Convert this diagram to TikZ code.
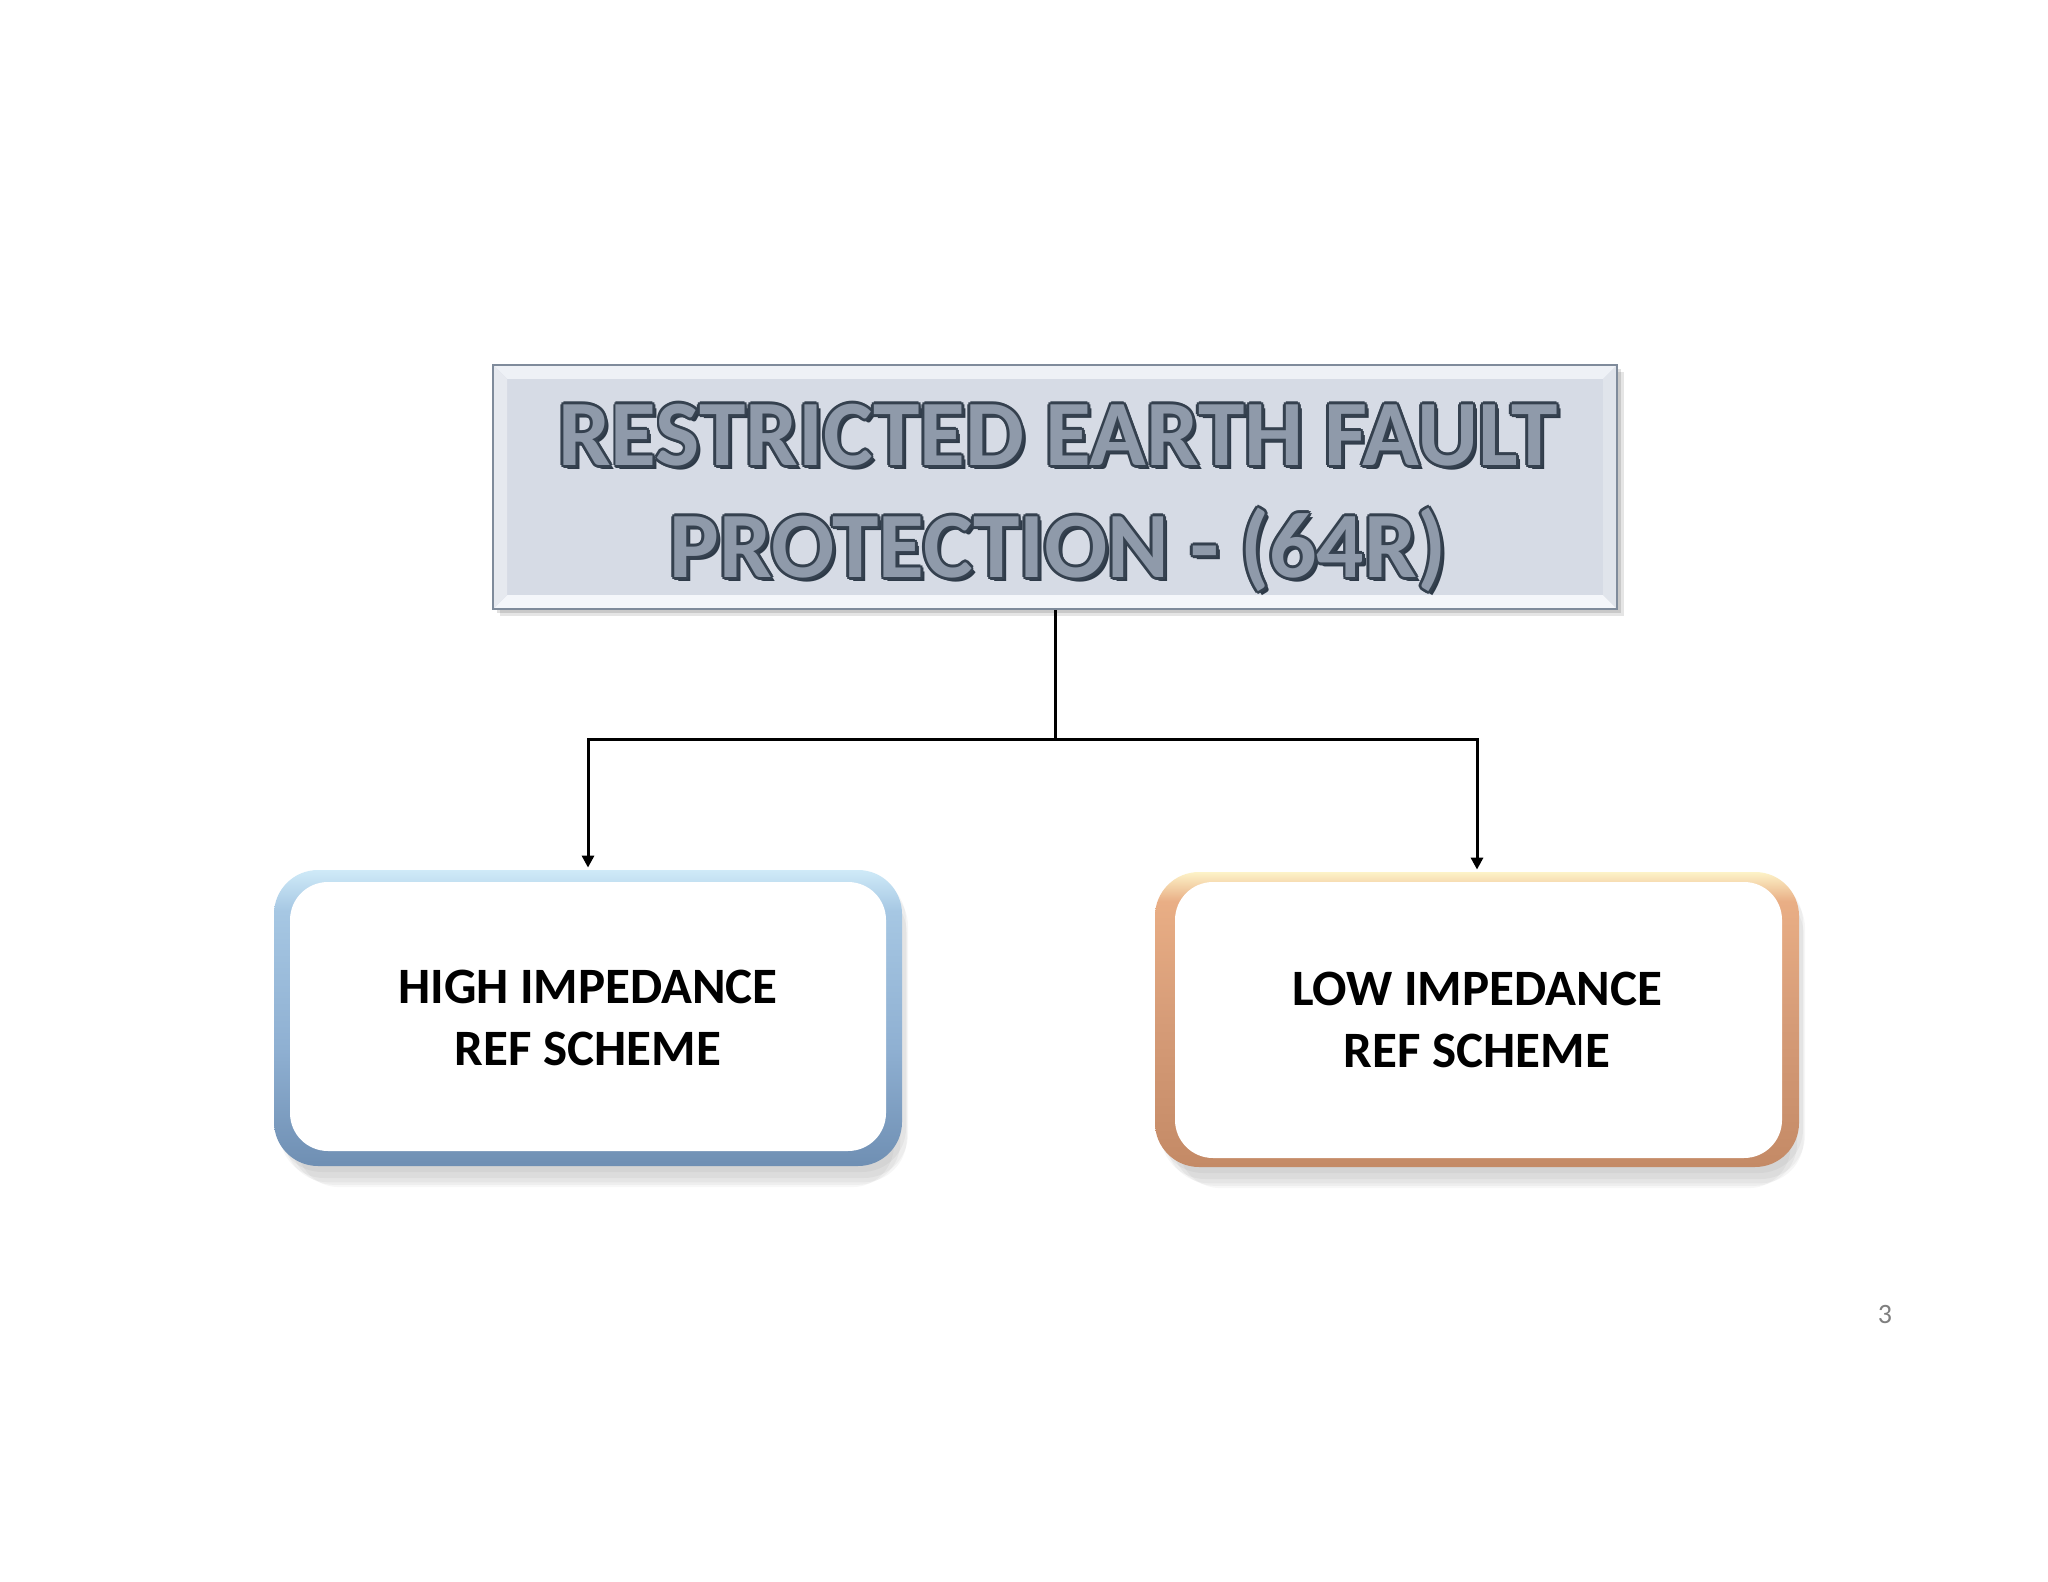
\documentclass[tikz,border=0pt]{standalone}
\usepackage{fontspec}
\setmainfont{Carlito}
\usetikzlibrary{shadows,arrows.meta,calc}

\definecolor{titlefill}{HTML}{D6DBE5}
\definecolor{titleborder}{HTML}{7F8B9B}
\definecolor{bevtop}{HTML}{EEF1F6}
\definecolor{bevbot}{HTML}{F4F6FA}
\definecolor{bevleft}{HTML}{E6E9EF}
\definecolor{bevright}{HTML}{E0E4EB}
\definecolor{tshadow}{HTML}{2E3A48}
\definecolor{toutline}{HTML}{35414F}
\definecolor{tmid}{HTML}{8F9AAA}
\definecolor{hitop}{HTML}{CFEAF8}
\definecolor{hiup}{HTML}{A6C7E3}
\definecolor{himid}{HTML}{8FB0D2}
\definecolor{hibot}{HTML}{6F8FB3}
\definecolor{lowtop}{HTML}{FDF3C8}
\definecolor{lowup}{HTML}{E9AE85}
\definecolor{lowmid}{HTML}{D69C78}
\definecolor{lowbot}{HTML}{C48A66}
\definecolor{pagegray}{HTML}{7F7F7F}

\pgfdeclareverticalshading{hishade}{100bp}{color(0bp)=(hibot); color(25bp)=(hibot); color(45bp)=(himid); color(68bp)=(hiup); color(75bp)=(hitop); color(100bp)=(hitop)}
\pgfdeclareverticalshading{lowshade}{100bp}{color(0bp)=(lowbot); color(25bp)=(lowbot); color(50bp)=(lowmid); color(70bp)=(lowup); color(75bp)=(lowtop); color(100bp)=(lowtop)}

\newcommand\reftitle{RESTRICTED EARTH FAULT\\PROTECTION - (64R)}

\begin{document}
\begin{tikzpicture}[x=0.5pt,y=-0.5pt,
  titletext/.style={font=\fontsize{46.8}{56}\selectfont\bfseries, align=center, inner sep=0pt},
  boxtext/.style={font=\fontsize{25.5}{31}\selectfont\bfseries, align=center, text=black},
  softshadow/.style={
    drop shadow={fill=black, opacity=0.035, shadow xshift=2pt, shadow yshift=-3pt},
    drop shadow={fill=black, opacity=0.035, shadow xshift=3pt, shadow yshift=-6pt},
    drop shadow={fill=black, opacity=0.035, shadow xshift=4pt, shadow yshift=-9pt, shadow scale=0.99},
    drop shadow={fill=black, opacity=0.035, shadow xshift=4pt, shadow yshift=-12pt, shadow scale=0.97},
    drop shadow={fill=black, opacity=0.03, shadow xshift=4pt, shadow yshift=-15pt, shadow scale=0.95}},
  titlebox/.style={rectangle, minimum width=562pt, minimum height=122pt, inner sep=0pt,
    fill=titlefill, draw=titleborder, line width=1pt,
    drop shadow={fill=black, opacity=0.12, shadow xshift=2pt, shadow yshift=-2pt},
    drop shadow={fill=black, opacity=0.10, shadow xshift=3.5pt, shadow yshift=-3.5pt},
    path picture={
      \coordinate (nw) at (path picture bounding box.north west);
      \coordinate (ne) at (path picture bounding box.north east);
      \coordinate (sw) at (path picture bounding box.south west);
      \coordinate (se) at (path picture bounding box.south east);
      \fill[bevtop] (nw) -- (ne) -- ($(ne)+(-14,14)$) -- ($(nw)+(14,14)$) -- cycle;
      \fill[bevbot] (sw) -- (se) -- ($(se)+(-14,-14)$) -- ($(sw)+(14,-14)$) -- cycle;
      \fill[bevleft] (nw) -- ($(nw)+(14,14)$) -- ($(sw)+(14,-14)$) -- (sw) -- cycle;
      \fill[bevright] (ne) -- ($(ne)+(-14,14)$) -- ($(se)+(-14,-14)$) -- (se) -- cycle;
    }},
  hibox/.style={rectangle, rounded corners=22pt, minimum width=314pt, minimum height=148pt,
    inner sep=0pt, shading=hishade, softshadow, boxtext,
    path picture={
      \fill[white, rounded corners=19pt]
        ($(path picture bounding box.north west)+(16,12)$) rectangle
        ($(path picture bounding box.south east)+(-16,-15)$);
    }},
  lowbox/.style={rectangle, rounded corners=22pt, minimum width=322pt, minimum height=147.5pt,
    inner sep=0pt, shading=lowshade, softshadow, boxtext,
    path picture={
      \fill[white, rounded corners=19pt]
        ($(path picture bounding box.north west)+(20,10)$) rectangle
        ($(path picture bounding box.south east)+(-17,-9)$);
    }},
  conn/.style={draw=black, line width=1.5pt},
  arr/.style={-{Triangle[width=6pt,length=6pt]}}
]
\fill[white] (0,0) rectangle (2048,1582);
\useasboundingbox (0,0) rectangle (2048,1582);

% title box
\node[titlebox] (title) at (1055,487) {};
\coordinate (tc) at (1058,498);
\node[titletext, text=tshadow] (tshadownode) at ($(tc)+(4,4)$) {\reftitle};
\foreach \i in {0,...,7}{
  \node[titletext, text=toutline] (tout\i) at ($(tc)+(\i*45:2.8)$) {\reftitle};
}
\node[titletext, text=tmid] (tmain) at (tc) {\reftitle};

% scheme boxes
\node[hibox] (high) at (588,1018) {HIGH IMPEDANCE\\REF SCHEME};
\node[lowbox] (low) at (1477,1019.5) {LOW IMPEDANCE\\REF SCHEME};

% connectors
\coordinate (split) at (title.south |- 0,739);
\draw[conn] (title.south) -- (split);
\draw[conn,arr] (split) -| ($(high.north)+(0,-2)$);
\draw[conn,arr] (split) -| ($(low.north)+(0,-2)$);

% page number
\node[font=\fontsize{14}{16}\selectfont, text=pagegray, inner sep=0pt] (pagenum) at (1885,1314) {3};
\end{tikzpicture}
\end{document}
